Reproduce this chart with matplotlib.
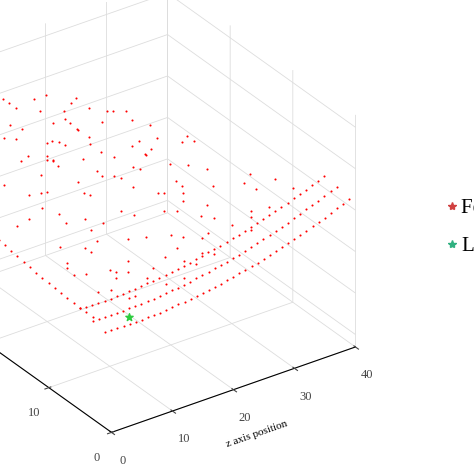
import matplotlib.pyplot as plt

plt.rcParams['font.family'] = ['Liberation Serif', 'DejaVu Sans']

# === DATA ===
# lower edge of the cloud along the z-position axis (y = 1, 3 and 5)
edge_x = list(range(0, 41))
edge_f1 = [1, 1, 0, 0, 0, 0, 0, 1, 1, 2, 3, 4, 6, 7, 9, 11, 13, 15, 18, 20, 23,
           26, 30, 33, 36, 40, 44, 48, 53, 56, 61, 66, 71, 76, 81, 87, 92, 98, 104, 110, 117]
edge_f2 = [7, 6, 6, 5, 5, 5, 6, 6, 7, 8, 9, 10, 12, 13, 15, 17, 19, 22, 24, 27, 30,
           33, 36, 40, 43, 47, 51, 55, 60, 64, 69, 73, 78, 84, 89, 95, 100, 106, 112, 118, 124]
edge_f3 = [15, 14, 13, 13, 12, 12, 13, 14, 15, 16, 17, 19, 20, 22, 24, 26, 28, 31, 33, 36, 39,
           42, 45, 48, 52, 55, 59, 63, 67, 71, 76, 80, 85, 90, 95, 100, 106, 111, 117, 122, 128]
# lower edge along the other axis (x = 1)
side_y = list(range(4, 31))
side_f = [0, 1, 1, 2, 3, 4, 5, 6, 8, 10, 12, 14, 17, 19, 22, 25, 29, 32, 36, 40,
          44, 48, 53, 57, 62, 67, 72]

# scattered points above the edge
cloud_x = [3, 6, 9, 12, 15, 18, 21, 24, 27, 30, 33, 36, 2, 5, 8, 11, 14, 17, 20, 23,
           26, 29, 32, 35, 4, 7, 10, 13, 16, 19, 22, 25, 28, 31, 34, 1, 6, 11, 16, 21,
           26, 31, 9, 14, 19, 24, 29, 12, 17, 22, 27, 8, 13, 18, 23, 28, 33, 10, 15, 20,
           25, 30, 5, 12, 18, 24, 14, 20, 16, 22, 11, 26, 7, 17, 21, 3, 8, 13, 18, 23,
           28, 2, 7, 12, 17, 22, 27, 32, 4, 9, 14, 19, 24, 29, 6, 11, 16, 21, 26, 1,
           10, 15, 20, 25, 30, 5, 13, 19, 23, 9, 14, 18, 12, 16, 20, 8, 11, 15, 24, 27,
           6, 10, 14, 19, 22, 25, 13, 17, 21, 7, 12, 15, 18, 20, 9, 11, 16, 23, 4, 28]
cloud_y = [10, 14, 8, 20, 12, 26, 9, 16, 11, 7, 9, 6, 22, 18, 25, 13, 28, 15, 21, 24,
           14, 12, 10, 8, 27, 11, 17, 23, 19, 8, 13, 10, 18, 15, 11, 16, 24, 29, 21, 17,
           22, 19, 12, 15, 26, 20, 25, 9, 11, 28, 16, 30, 26, 14, 12, 27, 20, 21, 24, 19,
           13, 23, 9, 27, 22, 29, 18, 10, 25, 21, 14, 26, 20, 28, 24, 5, 7, 4, 6, 8,
           5, 9, 3, 6, 8, 5, 7, 6, 4, 9, 7, 5, 8, 6, 3, 8, 4, 6, 9, 7,
           20, 24, 27, 18, 16, 26, 22, 13, 11, 28, 17, 23, 29, 21, 15, 12, 25, 27, 19, 14,
           23, 26, 16, 20, 25, 22, 29, 24, 12, 18, 27, 23, 28, 26, 19, 21, 14, 17, 15, 20]
cloud_f = [55, 35, 25, 20, 30, 40, 35, 50, 60, 75, 90, 110, 85, 65, 55, 35, 50, 55, 60, 70,
           80, 85, 100, 115, 95, 60, 40, 35, 55, 30, 50, 55, 80, 85, 100, 90, 80, 70, 65, 70,
           90, 105, 30, 40, 85, 70, 105, 25, 35, 100, 65, 120, 90, 50, 55, 110, 100, 70, 90, 80,
           60, 110, 30, 125, 100, 140, 80, 35, 120, 95, 50, 130, 90, 155, 115, 40, 25, 18, 27, 35,
           60, 60, 30, 15, 20, 33, 55, 85, 50, 18, 18, 25, 42, 75, 30, 15, 18, 30, 57, 70,
           170, 180, 150, 130, 145, 185, 120, 200, 110, 155, 210, 160, 200, 190, 140, 115, 175, 205, 145, 125,
           200, 180, 155, 205, 170, 180, 185, 180, 110, 160, 200, 145, 190, 180, 175, 185, 150, 140, 130, 120]

leader = (5, 2, 0)

# === PLOT ===
fig = plt.figure(figsize=(4.74, 4.74), dpi=100)
ax = fig.add_axes([-0.28, 0.02, 1.12, 1.06], projection='3d', proj_type='ortho')
xs = edge_x * 3 + [1] * len(side_y) + cloud_x
ys = [1] * 41 + [3] * 41 + [5] * 41 + side_y + cloud_y
fs = edge_f1 + edge_f2 + edge_f3 + side_f + cloud_f
ax.scatter(xs, ys, fs, s=9, c='red', marker='.', linewidths=0, depthshade=False)
ax.scatter([leader[0]], [leader[1]], [leader[2]], s=30, c='#2ecc40', marker='*',
           depthshade=False)
ax.set_xlim(0, 40)
ax.set_ylim(0, 30)
ax.set_zlim(-230, 330)
ax.set_box_aspect((1, 1.1, 0.9))
ax.set_xticks([0, 10, 20, 30, 40])
ax.set_yticks([0, 10, 20, 30])
ax.set_zticklabels([])
ax.set_xlabel('z axis position', fontsize=8, labelpad=2)
ax.tick_params(labelsize=9, colors='#444444')
for a in (ax.xaxis, ax.yaxis, ax.zaxis):
    a.set_pane_color((1, 1, 1, 0))
    a._axinfo['grid']['color'] = '#dddddd'
    a._axinfo['grid']['linewidth'] = 0.6
ax.view_init(elev=30, azim=-125)

h1 = plt.Line2D([], [], ls='', marker='*', color='#d04040', markersize=6)
h2 = plt.Line2D([], [], ls='', marker='*', color='#30b080', markersize=6)
fig.legend([h1, h2], ['Feasible solutions', 'Leader'], loc='center left',
           bbox_to_anchor=(0.9, 0.52), frameon=False, fontsize=15,
           handlelength=0.6, handletextpad=0.15, labelspacing=0.9)

plt.savefig('out.png', dpi=100)
